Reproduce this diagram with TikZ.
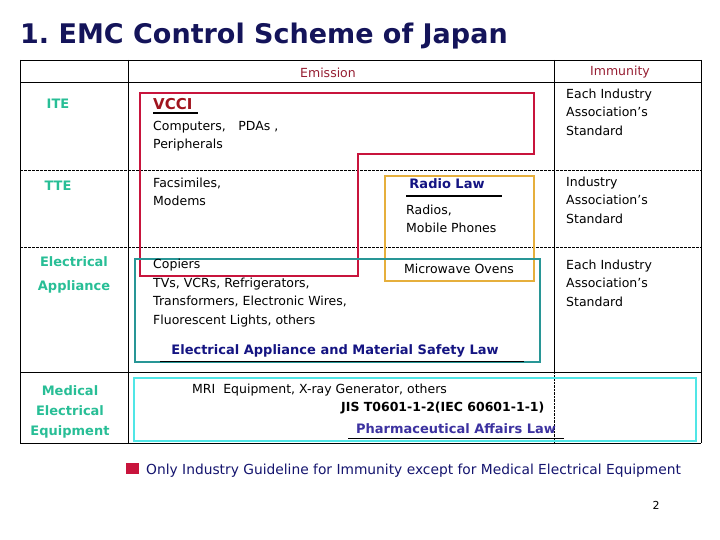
\documentclass[tikz,border=0pt]{standalone}
\usepackage{fontspec}
\setmainfont{DejaVu Sans}
\begin{document}
\begin{tikzpicture}[x=1pt,y=-1pt,
  t/.style={font=\fontsize{12.5}{18.5}\selectfont,inner sep=0pt,anchor=west,align=left},
  g/.style={t,font=\fontsize{13}{20}\selectfont\bfseries,text={rgb,255:red,40;green,190;blue,150},align=center,anchor=center},
  law/.style={t,font=\fontsize{13}{16}\selectfont\bfseries,text={rgb,255:red,20;green,20;blue,130}},
  hd/.style={t,text={rgb,255:red,150;green,30;blue,50},anchor=center}]
\useasboundingbox (0,0) rectangle (720,540);
\definecolor{vred}{RGB}{200,20,60}
\definecolor{orng}{RGB}{230,175,60}
\definecolor{teal2}{RGB}{40,150,150}
\definecolor{cyan2}{RGB}{80,230,230}
\node[anchor=west,inner sep=0pt,font=\fontsize{27}{32}\selectfont\bfseries,text={rgb,255:red,20;green,20;blue,90}] (title) at (20,36) {1.\ EMC Control Scheme of Japan};
% table
\draw (20,60) -- (701,60);
\draw (20,82) -- (701,82);
\draw[dashed,dash pattern=on 3pt off 1pt] (20,170) -- (701,170);
\draw[dashed,dash pattern=on 3pt off 1pt] (20,247) -- (701,247);
\draw (20,372) -- (701,372);
\draw (20,443) -- (701,443);
\draw (20,60) -- (20,443);
\draw (128,60) -- (128,443);
\draw (554,60) -- (554,372);
\draw[densely dotted] (554,372) -- (554,443);
\draw (701,60) -- (701,443);
% boxes
\draw[vred,line width=1.8pt] (140,93) -- (534,93) -- (534,154) -- (358,154) -- (358,276) -- (140,276) -- cycle;
\draw[orng,line width=1.5pt] (385,176) rectangle (534,281);
\draw[teal2,line width=1.5pt] (135,259) rectangle (540,362);
\draw[cyan2,line width=1.5pt] (134,378) rectangle (696,441);
% headers
\node[hd] (em) at (328,73) {Emission};
\node[hd] (im) at (620,72) {Immunity};
\node[g] (ite) at (58,104) {ITE};
\node[g] (tte) at (58,186) {TTE};
\node[g,font=\fontsize{13}{24}\selectfont\bfseries] (ea) at (74,275) {Electrical\\Appliance};
\node[g] (me) at (70,412) {Medical\\Electrical\\Equipment};
% cells
\node[t,font=\fontsize{15}{18}\selectfont\bfseries,text={rgb,255:red,160;green,20;blue,30}] (vcci) at (153,104) {VCCI};
\draw[line width=1.2pt] (153,113) -- (198,113);
\node[t] (comp) at (153,136) {Computers,\quad PDAs ,\\Peripherals};
\node[t] (fax) at (153,192) {Facsimiles,\\Modems};
\node[law,anchor=center] (radio) at (447,184) {Radio Law};
\draw[line width=1.2pt] (406,196) -- (502,196);
\node[t] (rad) at (406,219) {Radios,\\Mobile Phones};
\node[t,anchor=center] (mw) at (459,269) {Microwave Ovens};
\node[t] (cop) at (153,293) {Copiers\\TVs, VCRs, Refrigerators,\\Transformers, Electronic Wires,\\Fluorescent Lights, others};
\node[law,anchor=center] (eal) at (335,351) {Electrical Appliance and Material Safety Law};
\draw[line width=1pt] (160,361) -- (524,361);
\node[t] (s1) at (566,112) {Each Industry\\Association's\\Standard};
\node[t] (s2) at (566,200) {Industry\\Association's\\Standard};
\node[t] (s3) at (566,283) {Each Industry\\Association's\\Standard};
\node[t] (mri) at (192,390) {MRI\ \ Equipment, X-ray Generator, others};
\node[t,font=\fontsize{12.5}{15}\selectfont\bfseries] (jis) at (341,408) {JIS T0601-1-2(IEC 60601-1-1)};
\node[law,anchor=center,text={rgb,255:red,60;green,50;blue,160}] (pal) at (456,429) {Pharmaceutical Affairs Law};
\draw[line width=1pt] (348,438) -- (564,438);
\fill[vred] (126,463) rectangle (139,474);
\node[t,font=\fontsize{13.8}{16}\selectfont,text={rgb,255:red,20;green,20;blue,110}] (note) at (146,471) {Only Industry Guideline for Immunity except for Medical Electrical Equipment};
\node[t,anchor=center,font=\fontsize{11}{13}\selectfont] (pg) at (656,505) {2};
\end{tikzpicture}
\end{document}
